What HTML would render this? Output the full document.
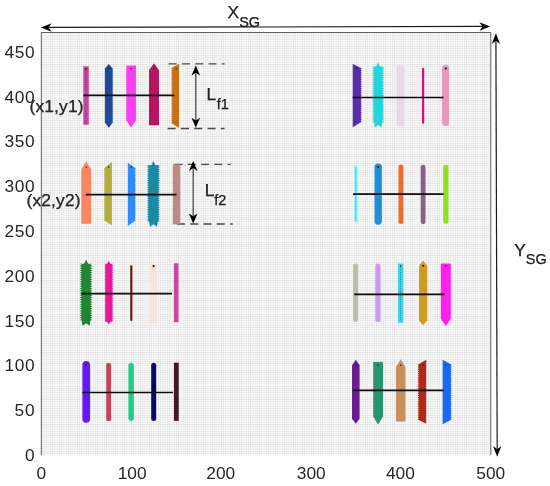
<!DOCTYPE html>
<html><head><meta charset="utf-8"><title>Sensor grid</title>
<style>
html,body{margin:0;padding:0;background:#fff;}
body{width:550px;height:486px;overflow:hidden;}
svg{display:block;}
text{font-family:"Liberation Sans",Arial,Helvetica,sans-serif;fill:#262626;}
</style></head><body>
<svg width="550" height="486" viewBox="0 0 550 486">
<defs>
<pattern id="grid" x="41" y="32.5" width="2.25" height="2.25" patternUnits="userSpaceOnUse">
<rect width="2.25" height="2.25" fill="#fafafa"/>
<path d="M0 0H2.25M0 0V2.25" stroke="#c9c9c9" stroke-width="0.55" fill="none"/>
</pattern>
<marker id="ah" viewBox="0 0 10 8" refX="10" refY="4" markerWidth="10" markerHeight="8" markerUnits="userSpaceOnUse" orient="auto-start-reverse">
<path d="M10 4L0 0L3 4L0 8Z" fill="#000"/>
</marker>
</defs>
<rect x="0" y="0" width="550" height="486" fill="#fff"/>
<rect x="41" y="32" width="450" height="423.6" fill="url(#grid)"/>
<path d="M41.3 455V32.5H490.8V455" fill="none" stroke="#444" stroke-width="0.85"/>
<!-- big arrows -->
<line x1="48.00" y1="27.43" x2="483.10" y2="26.47" stroke="#1a1a1a" stroke-width="1.20"/>
<polygon points="490.20,26.45 479.41,30.67 482.60,26.47 479.39,22.27" fill="#000"/>
<polygon points="40.90,27.45 51.71,31.63 48.50,27.43 51.69,23.23" fill="#000"/>
<line x1="495.92" y1="40.30" x2="497.18" y2="449.70" stroke="#1a1a1a" stroke-width="1.20"/>
<polygon points="497.20,456.80 492.97,446.01 497.18,449.20 501.37,445.99" fill="#000"/>
<polygon points="495.90,33.20 491.73,44.01 495.92,40.80 500.13,43.99" fill="#000"/>
<!-- dashed -->
<g stroke="#4a4a4a" stroke-width="1.3" stroke-dasharray="8 5.3">
<line x1="168.6" y1="63.85" x2="224.6" y2="63.85"/>
<line x1="167.65" y1="128.5" x2="224.6" y2="128.5"/>
<line x1="174.5" y1="164.4" x2="230.3" y2="164.4"/>
<line x1="176.9" y1="224" x2="232.8" y2="224"/>
</g>
<line x1="195.80" y1="72.30" x2="195.80" y2="121.10" stroke="#4d4d4d" stroke-width="1.30"/>
<polygon points="195.80,127.80 191.50,117.80 195.80,120.60 200.10,117.80" fill="#000"/>
<polygon points="195.80,65.60 191.50,75.60 195.80,72.80 200.10,75.60" fill="#000"/>
<line x1="193.20" y1="167.60" x2="193.20" y2="216.70" stroke="#4d4d4d" stroke-width="1.30"/>
<polygon points="193.20,223.40 188.90,213.40 193.20,216.20 197.50,213.40" fill="#000"/>
<polygon points="193.20,160.90 188.90,170.90 193.20,168.10 197.50,170.90" fill="#000"/>
<rect x="83.3" y="66.3" width="5.5" height="58.5" fill="#CB479D"/>
<line x1="86.0" y1="70.6" x2="86.0" y2="124.0" stroke="#9C2F7C" stroke-width="1.3" stroke-dasharray="1 1.25"/>
<circle cx="86.0" cy="68.9" r="0.8" fill="#111"/>
<polygon points="108.8,64.0 112.7,68.6 112.7,122.6 108.8,127.7 104.9,122.6 104.9,68.6" fill="#1D4A99"/>
<polygon points="126.3,65.5 135.9,65.5 135.9,120.5 131.1,127.7 126.3,120.5" fill="#FA3DF0"/>
<polygon points="154.0,63.3 159.0,70.3 159.0,125.3 149.0,125.3 149.0,70.3" fill="#B8145F"/>
<polygon points="171.2,68.2 179.1,63.8 179.1,127.8 171.2,123.2 172.4,122.1 171.2,121.0 172.4,119.9 171.2,118.8 172.4,117.7 171.2,116.6 172.4,115.5 171.2,114.4 172.4,113.3 171.2,112.2 172.4,111.1 171.2,110.0 172.4,108.9 171.2,107.8 172.4,106.7 171.2,105.6 172.4,104.5 171.2,103.4 172.4,102.3 171.2,101.2 172.4,100.1 171.2,99.0 172.4,97.9 171.2,96.8 172.4,95.7 171.2,94.6 172.4,93.5 171.2,92.4 172.4,91.3 171.2,90.2 172.4,89.1 171.2,88.0 172.4,86.9 171.2,85.8 172.4,84.7 171.2,83.6 172.4,82.5 171.2,81.4 172.4,80.3 171.2,79.2 172.4,78.1 171.2,77.0 172.4,75.9 171.2,74.8 172.4,73.7 171.2,72.6 172.4,71.5 171.2,70.4 172.4,69.3" fill="#C87014"/>
<line x1="83.5" y1="95.4" x2="174.3" y2="95.4" stroke="#0a0a0a" stroke-width="1.7"/>
<polygon points="86.2,161.3 91.2,169.2 91.2,223.7 81.3,223.7 81.3,169.2" fill="#FC8562"/>
<polygon points="103.8,168.5 111.9,162.0 111.9,225.3 103.8,220.3 105.0,219.2 103.8,218.0 105.0,216.9 103.8,215.8 105.0,214.7 103.8,213.5 105.0,212.4 103.8,211.3 105.0,210.2 103.8,209.0 105.0,207.9 103.8,206.8 105.0,205.7 103.8,204.5 105.0,203.4 103.8,202.3 105.0,201.2 103.8,200.0 105.0,198.9 103.8,197.8 105.0,196.7 103.8,195.5 105.0,194.4 103.8,193.3 105.0,192.1 103.8,191.0 105.0,189.9 103.8,188.8 105.0,187.6 103.8,186.5 105.0,185.4 103.8,184.3 105.0,183.1 103.8,182.0 105.0,180.9 103.8,179.8 105.0,178.6 103.8,177.5 105.0,176.4 103.8,175.3 105.0,174.1 103.8,173.0 105.0,171.9 103.8,170.8 105.0,169.6" fill="#B5AC3A"/>
<polygon points="127.8,162.7 135.9,168.5 134.7,169.6 135.9,170.8 134.7,171.9 135.9,173.0 134.7,174.1 135.9,175.3 134.7,176.4 135.9,177.5 134.7,178.6 135.9,179.8 134.7,180.9 135.9,182.0 134.7,183.1 135.9,184.3 134.7,185.4 135.9,186.5 134.7,187.6 135.9,188.8 134.7,189.9 135.9,191.0 134.7,192.1 135.9,193.3 134.7,194.4 135.9,195.5 134.7,196.7 135.9,197.8 134.7,198.9 135.9,200.0 134.7,201.2 135.9,202.3 134.7,203.4 135.9,204.5 134.7,205.7 135.9,206.8 134.7,207.9 135.9,209.0 134.7,210.2 135.9,211.3 134.7,212.4 135.9,213.5 134.7,214.7 135.9,215.8 134.7,216.9 135.9,218.0 134.7,219.2 135.9,220.3 127.8,226.0" fill="#2D8CFF"/>
<polygon points="153.4,160.8 155.3,164.9 159.8,164.9 158.2,166.0 159.8,167.1 158.2,168.3 159.8,169.4 158.2,170.5 159.8,171.6 158.2,172.7 159.8,173.9 158.2,175.0 159.8,176.1 158.2,177.2 159.8,178.4 158.2,179.5 159.8,180.6 158.2,181.7 159.8,182.8 158.2,184.0 159.8,185.1 158.2,186.2 159.8,187.3 158.2,188.4 159.8,189.6 158.2,190.7 159.8,191.8 158.2,192.9 159.8,194.1 158.2,195.2 159.8,196.3 158.2,197.4 159.8,198.5 158.2,199.7 159.8,200.8 158.2,201.9 159.8,203.0 158.2,204.1 159.8,205.3 158.2,206.4 159.8,207.5 158.2,208.6 159.8,209.7 158.2,210.9 159.8,212.0 158.2,213.1 159.8,214.2 158.2,215.4 159.8,216.5 158.2,217.6 159.8,218.7 158.2,219.8 159.8,221.0 157.9,221.5 156.9,226.8 153.4,224.3 150.0,226.8 149.0,221.5 147.1,221.0 148.7,219.8 147.1,218.7 148.7,217.6 147.1,216.5 148.7,215.4 147.1,214.2 148.7,213.1 147.1,212.0 148.7,210.9 147.1,209.7 148.7,208.6 147.1,207.5 148.7,206.4 147.1,205.3 148.7,204.1 147.1,203.0 148.7,201.9 147.1,200.8 148.7,199.7 147.1,198.5 148.7,197.4 147.1,196.3 148.7,195.2 147.1,194.1 148.7,192.9 147.1,191.8 148.7,190.7 147.1,189.6 148.7,188.4 147.1,187.3 148.7,186.2 147.1,185.1 148.7,184.0 147.1,182.8 148.7,181.7 147.1,180.6 148.7,179.5 147.1,178.4 148.7,177.2 147.1,176.1 148.7,175.0 147.1,173.9 148.7,172.7 147.1,171.6 148.7,170.5 147.1,169.4 148.7,168.3 147.1,167.1 148.7,166.0 147.1,164.9 151.5,164.9" fill="#1B8AA6"/>
<rect x="172.8" y="164.3" width="7.5" height="60.0" fill="#BC8A85"/>
<line x1="85.7" y1="194.7" x2="176.5" y2="194.7" stroke="#0a0a0a" stroke-width="1.7"/>
<polygon points="86.1,259.6 88.1,263.7 92.4,263.7 90.2,264.8 92.4,266.0 90.2,267.1 92.4,268.2 90.2,269.3 92.4,270.5 90.2,271.6 92.4,272.7 90.2,273.8 92.4,275.0 90.2,276.1 92.4,277.2 90.2,278.3 92.4,279.5 90.2,280.6 92.4,281.7 90.2,282.8 92.4,284.0 90.2,285.1 92.4,286.2 90.2,287.3 92.4,288.5 90.2,289.6 92.4,290.7 90.2,291.8 92.4,293.0 90.2,294.1 92.4,295.2 90.2,296.3 92.4,297.5 90.2,298.6 92.4,299.7 90.2,300.8 92.4,302.0 90.2,303.1 92.4,304.2 90.2,305.3 92.4,306.5 90.2,307.6 92.4,308.7 90.2,309.8 92.4,311.0 90.2,312.1 92.4,313.2 90.2,314.3 92.4,315.5 90.2,316.6 92.4,317.7 90.2,318.8 92.4,320.0 90.5,320.5 89.5,325.8 86.1,323.3 82.6,325.8 81.6,320.5 79.7,320.0 81.9,318.8 79.7,317.7 81.9,316.6 79.7,315.5 81.9,314.3 79.7,313.2 81.9,312.1 79.7,311.0 81.9,309.8 79.7,308.7 81.9,307.6 79.7,306.5 81.9,305.3 79.7,304.2 81.9,303.1 79.7,302.0 81.9,300.8 79.7,299.7 81.9,298.6 79.7,297.5 81.9,296.3 79.7,295.2 81.9,294.1 79.7,293.0 81.9,291.8 79.7,290.7 81.9,289.6 79.7,288.5 81.9,287.3 79.7,286.2 81.9,285.1 79.7,284.0 81.9,282.8 79.7,281.7 81.9,280.6 79.7,279.5 81.9,278.3 79.7,277.2 81.9,276.1 79.7,275.0 81.9,273.8 79.7,272.7 81.9,271.6 79.7,270.5 81.9,269.3 79.7,268.2 81.9,267.1 79.7,266.0 81.9,264.8 79.7,263.7 84.1,263.7" fill="#1F8632"/>
<polygon points="108.8,260.9 110.5,263.7 113.1,263.7 112.1,264.6 113.1,265.5 112.1,266.3 113.1,267.2 112.1,268.1 113.1,269.0 112.1,269.9 113.1,270.7 112.1,271.6 113.1,272.5 112.1,273.4 113.1,274.3 112.1,275.1 113.1,276.0 112.1,276.9 113.1,277.8 112.1,278.7 113.1,279.5 112.1,280.4 113.1,281.3 112.1,282.2 113.1,283.1 112.1,283.9 113.1,284.8 112.1,285.7 113.1,286.6 112.1,287.5 113.1,288.3 112.1,289.2 113.1,290.1 112.1,291.0 113.1,291.9 112.1,292.8 113.1,293.6 112.1,294.5 113.1,295.4 112.1,296.3 113.1,297.2 112.1,298.0 113.1,298.9 112.1,299.8 113.1,300.7 112.1,301.6 113.1,302.4 112.1,303.3 113.1,304.2 112.1,305.1 113.1,306.0 112.1,306.8 113.1,307.7 112.1,308.6 113.1,309.5 112.1,310.4 113.1,311.2 112.1,312.1 113.1,313.0 112.1,313.9 113.1,314.8 112.1,315.6 113.1,316.5 112.1,317.4 113.1,318.3 112.1,319.2 113.1,320.0 112.1,320.9 113.1,321.8 110.5,321.8 108.8,324.6 107.1,321.8 104.6,321.8 105.6,320.9 104.6,320.0 105.6,319.2 104.6,318.3 105.6,317.4 104.6,316.5 105.6,315.6 104.6,314.8 105.6,313.9 104.6,313.0 105.6,312.1 104.6,311.2 105.6,310.4 104.6,309.5 105.6,308.6 104.6,307.7 105.6,306.8 104.6,306.0 105.6,305.1 104.6,304.2 105.6,303.3 104.6,302.4 105.6,301.6 104.6,300.7 105.6,299.8 104.6,298.9 105.6,298.0 104.6,297.2 105.6,296.3 104.6,295.4 105.6,294.5 104.6,293.6 105.6,292.8 104.6,291.9 105.6,291.0 104.6,290.1 105.6,289.2 104.6,288.3 105.6,287.5 104.6,286.6 105.6,285.7 104.6,284.8 105.6,283.9 104.6,283.1 105.6,282.2 104.6,281.3 105.6,280.4 104.6,279.5 105.6,278.7 104.6,277.8 105.6,276.9 104.6,276.0 105.6,275.1 104.6,274.3 105.6,273.4 104.6,272.5 105.6,271.6 104.6,270.7 105.6,269.9 104.6,269.0 105.6,268.1 104.6,267.2 105.6,266.3 104.6,265.5 105.6,264.6 104.6,263.7 107.1,263.7" fill="#E6189C"/>
<rect x="130.2" y="265.3" width="2.2" height="55.6" fill="#6B1E0A" rx="1.0"/>
<rect x="149.6" y="263.5" width="7.2" height="59.5" fill="#F8E3DB" rx="2.0"/>
<circle cx="153.6" cy="266.0" r="1.1" fill="#111"/>
<rect x="173.9" y="263.3" width="4.6" height="58.9" fill="#CE44A0"/>
<line x1="81.3" y1="293.6" x2="172.0" y2="293.6" stroke="#0a0a0a" stroke-width="1.7"/>
<rect x="82.4" y="360.9" width="7.7" height="61.8" fill="#6318FA" rx="3.8"/>
<circle cx="85.9" cy="364.8" r="1.1" fill="#111"/>
<rect x="106.2" y="363.1" width="4.8" height="57.8" fill="#C84258" rx="1.5"/>
<polygon points="131.1,362.2 133.8,364.8 133.8,418.9 131.1,421.4 128.4,418.9 128.4,364.8" fill="#1FCA8B"/>
<rect x="151.2" y="362.7" width="5.0" height="58.2" fill="#0A0A66" rx="2.5"/>
<rect x="173.9" y="362.7" width="4.8" height="58.2" fill="#40182A"/>
<line x1="82.4" y1="392.5" x2="173.0" y2="392.5" stroke="#0a0a0a" stroke-width="1.7"/>
<polygon points="352.7,63.7 361.8,68.5 360.6,69.6 361.8,70.7 360.6,71.8 361.8,72.9 360.6,74.0 361.8,75.1 360.6,76.2 361.8,77.3 360.6,78.5 361.8,79.6 360.6,80.7 361.8,81.8 360.6,82.9 361.8,84.0 360.6,85.1 361.8,86.2 360.6,87.3 361.8,88.4 360.6,89.5 361.8,90.6 360.6,91.7 361.8,92.8 360.6,93.9 361.8,95.0 360.6,96.2 361.8,97.3 360.6,98.4 361.8,99.5 360.6,100.6 361.8,101.7 360.6,102.8 361.8,103.9 360.6,105.0 361.8,106.1 360.6,107.2 361.8,108.3 360.6,109.4 361.8,110.5 360.6,111.6 361.8,112.8 360.6,113.9 361.8,115.0 360.6,116.1 361.8,117.2 360.6,118.3 361.8,119.4 360.6,120.5 361.8,121.6 352.7,127.4" fill="#5B2DA8"/>
<polygon points="378.1,62.2 380.0,66.4 384.1,66.4 382.3,67.5 384.1,68.6 382.3,69.7 384.1,70.8 382.3,72.0 384.1,73.1 382.3,74.2 384.1,75.3 382.3,76.4 384.1,77.5 382.3,78.6 384.1,79.7 382.3,80.8 384.1,81.9 382.3,83.1 384.1,84.2 382.3,85.3 384.1,86.4 382.3,87.5 384.1,88.6 382.3,89.7 384.1,90.8 382.3,91.9 384.1,93.1 382.3,94.2 384.1,95.3 382.3,96.4 384.1,97.5 382.3,98.6 384.1,99.7 382.3,100.8 384.1,101.9 382.3,103.0 384.1,104.2 382.3,105.3 384.1,106.4 382.3,107.5 384.1,108.6 382.3,109.7 384.1,110.8 382.3,111.9 384.1,113.0 382.3,114.2 384.1,115.3 382.3,116.4 384.1,117.5 382.3,118.6 384.1,119.7 382.3,120.8 384.1,121.9 382.3,122.4 381.4,127.4 378.1,125.0 374.9,127.4 374.0,122.4 372.2,121.9 374.0,120.8 372.2,119.7 374.0,118.6 372.2,117.5 374.0,116.4 372.2,115.3 374.0,114.2 372.2,113.0 374.0,111.9 372.2,110.8 374.0,109.7 372.2,108.6 374.0,107.5 372.2,106.4 374.0,105.3 372.2,104.2 374.0,103.0 372.2,101.9 374.0,100.8 372.2,99.7 374.0,98.6 372.2,97.5 374.0,96.4 372.2,95.3 374.0,94.2 372.2,93.1 374.0,91.9 372.2,90.8 374.0,89.7 372.2,88.6 374.0,87.5 372.2,86.4 374.0,85.3 372.2,84.2 374.0,83.1 372.2,81.9 374.0,80.8 372.2,79.7 374.0,78.6 372.2,77.5 374.0,76.4 372.2,75.3 374.0,74.2 372.2,73.1 374.0,72.0 372.2,70.8 374.0,69.7 372.2,68.6 374.0,67.5 372.2,66.4 376.2,66.4" fill="#22D6DC"/>
<rect x="396.7" y="64.8" width="7.7" height="61.8" fill="#EDD5EA" rx="3.5"/>
<rect x="422.0" y="67.7" width="2.2" height="56.0" fill="#D6127F" rx="1.0"/>
<rect x="442.1" y="64.8" width="7.0" height="61.1" fill="#E899BB" rx="3.5"/>
<circle cx="445.8" cy="68.5" r="1.1" fill="#111"/>
<line x1="352.7" y1="97.5" x2="443.6" y2="97.5" stroke="#0a0a0a" stroke-width="1.7"/>
<rect x="354.6" y="166.4" width="2.2" height="55.2" fill="#33EEFF"/>
<rect x="374.5" y="163.5" width="7.4" height="61.3" fill="#1F8FD6" rx="3.7"/>
<circle cx="378.2" cy="167.0" r="1.1" fill="#111"/>
<rect x="398.5" y="164.8" width="4.8" height="58.9" fill="#EE6A30" rx="1.5"/>
<rect x="420.7" y="164.8" width="4.8" height="59.4" fill="#8A5F80" rx="2.4"/>
<rect x="443.2" y="164.8" width="5.2" height="58.9" fill="#8FE01F" rx="2.5"/>
<line x1="353.1" y1="194.1" x2="443.6" y2="194.1" stroke="#0a0a0a" stroke-width="1.7"/>
<rect x="353.1" y="263.5" width="5.0" height="58.5" fill="#BDBDA8" rx="2.5"/>
<rect x="375.3" y="263.5" width="5.3" height="58.5" fill="#CC99F0" rx="2.5"/>
<rect x="398.0" y="263.5" width="5.3" height="59.2" fill="#3DD6E8"/>
<line x1="400.6" y1="267.5" x2="400.6" y2="322.0" stroke="#2A93B0" stroke-width="1.1" stroke-dasharray="1 1.25"/>
<circle cx="400.6" cy="266.0" r="0.8" fill="#111"/>
<polygon points="423.1,260.5 427.3,265.7 427.3,320.3 423.1,325.3 419.0,320.3 419.0,265.7" fill="#CE9C20"/>
<polygon points="440.8,263.5 450.8,263.5 450.8,318.7 445.8,326.0 440.8,318.7" fill="#FF1FEE"/>
<line x1="354.2" y1="294.3" x2="444.7" y2="294.3" stroke="#0a0a0a" stroke-width="1.7"/>
<polygon points="355.8,359.8 359.6,365.3 359.6,418.7 355.8,423.7 352.0,418.7 352.0,365.3" fill="#6B1F8F"/>
<polygon points="373.2,362.0 383.0,362.0 383.0,416.5 378.1,424.6 373.2,416.5" fill="#2A9470"/>
<polygon points="400.8,359.2 405.5,367.0 405.5,421.6 396.0,421.6 396.0,367.0" fill="#C88F5A"/>
<polygon points="417.7,364.8 426.2,359.8 426.2,423.7 417.7,419.4 418.9,418.3 417.7,417.2 418.9,416.1 417.7,415.0 418.9,413.9 417.7,412.8 418.9,411.8 417.7,410.7 418.9,409.6 417.7,408.5 418.9,407.4 417.7,406.3 418.9,405.2 417.7,404.1 418.9,403.0 417.7,401.9 418.9,400.8 417.7,399.7 418.9,398.7 417.7,397.6 418.9,396.5 417.7,395.4 418.9,394.3 417.7,393.2 418.9,392.1 417.7,391.0 418.9,389.9 417.7,388.8 418.9,387.7 417.7,386.6 418.9,385.5 417.7,384.5 418.9,383.4 417.7,382.3 418.9,381.2 417.7,380.1 418.9,379.0 417.7,377.9 418.9,376.8 417.7,375.7 418.9,374.6 417.7,373.5 418.9,372.4 417.7,371.4 418.9,370.3 417.7,369.2 418.9,368.1 417.7,367.0 418.9,365.9" fill="#B02A14"/>
<polygon points="442.6,359.8 451.7,364.8 450.5,365.9 451.7,367.0 450.5,368.1 451.7,369.2 450.5,370.3 451.7,371.4 450.5,372.4 451.7,373.5 450.5,374.6 451.7,375.7 450.5,376.8 451.7,377.9 450.5,379.0 451.7,380.1 450.5,381.2 451.7,382.3 450.5,383.4 451.7,384.5 450.5,385.5 451.7,386.6 450.5,387.7 451.7,388.8 450.5,389.9 451.7,391.0 450.5,392.1 451.7,393.2 450.5,394.3 451.7,395.4 450.5,396.5 451.7,397.6 450.5,398.7 451.7,399.7 450.5,400.8 451.7,401.9 450.5,403.0 451.7,404.1 450.5,405.2 451.7,406.3 450.5,407.4 451.7,408.5 450.5,409.6 451.7,410.7 450.5,411.8 451.7,412.8 450.5,413.9 451.7,415.0 450.5,416.1 451.7,417.2 450.5,418.3 451.7,419.4 442.6,424.2" fill="#1868F5"/>
<line x1="353.1" y1="390.4" x2="443.6" y2="390.4" stroke="#0a0a0a" stroke-width="1.7"/>
<circle cx="108.7" cy="68.7" r="0.8" fill="#2a1a2a"/>
<circle cx="131.1" cy="68.7" r="0.8" fill="#2a1a2a"/>
<circle cx="153.8" cy="68.7" r="0.8" fill="#2a1a2a"/>
<circle cx="176.2" cy="68.7" r="0.8" fill="#2a1a2a"/>
<circle cx="86.3" cy="167.0" r="0.8" fill="#2a1a2a"/>
<circle cx="108.6" cy="167.0" r="0.8" fill="#2a1a2a"/>
<circle cx="131.2" cy="167.0" r="0.8" fill="#2a1a2a"/>
<circle cx="356.2" cy="68.6" r="0.8" fill="#2a1a2a"/>
<circle cx="423.2" cy="265.8" r="1.0" fill="#111"/>
<circle cx="445.8" cy="265.9" r="0.8" fill="#2a1a2a"/>
<circle cx="355.8" cy="365.3" r="0.8" fill="#2a1a2a"/>
<circle cx="378.1" cy="365.3" r="0.8" fill="#2a1a2a"/>
<circle cx="400.8" cy="365.3" r="0.8" fill="#2a1a2a"/>
<circle cx="423.3" cy="365.3" r="0.8" fill="#2a1a2a"/>
<circle cx="445.8" cy="365.3" r="0.8" fill="#2a1a2a"/>
<!-- labels -->
<g font-size="17.33" text-anchor="end" lengthAdjust="spacing">
<text x="34.6" y="57.7" textLength="30">450</text>
<text x="34.6" y="102.5" textLength="30">400</text>
<text x="34.6" y="147.3" textLength="30">350</text>
<text x="34.6" y="192.1" textLength="30">300</text>
<text x="34.6" y="236.9" textLength="30">250</text>
<text x="34.6" y="281.7" textLength="30">200</text>
<text x="34.6" y="326.6" textLength="30">150</text>
<text x="34.6" y="371.4" textLength="30">100</text>
<text x="34.6" y="416.2" textLength="20">50</text>
<text x="34.6" y="461.0">0</text>
</g>
<g font-size="17.33" text-anchor="middle">
<text x="41.4" y="478.6">0</text>
<text x="132.2" y="478.6">100</text>
<text x="220.8" y="478.6">200</text>
<text x="311.3" y="478.6">300</text>
<text x="400.4" y="478.6">400</text>
<text x="490.8" y="478.6">500</text>
</g>
<g font-size="17.33" fill="#000" stroke="#000" stroke-width="0.25">
<text x="29.5" y="111.6" textLength="54">(x1,y1)</text>
<text x="26.5" y="206.2" textLength="54">(x2,y2)</text>
<text x="227.6" y="18">X<tspan font-size="14.5" dy="8.7">SG</tspan></text>
<text x="514.2" y="255.7">Y<tspan font-size="14.5" dy="8.4">SG</tspan></text>
<text x="206.5" y="99.8">L<tspan font-size="14.5" dx="0.5" dy="9">f1</tspan></text>
<text x="204.7" y="196.3">L<tspan font-size="14.5" dy="8.8">f2</tspan></text>
</g>
</svg>
</body></html>
